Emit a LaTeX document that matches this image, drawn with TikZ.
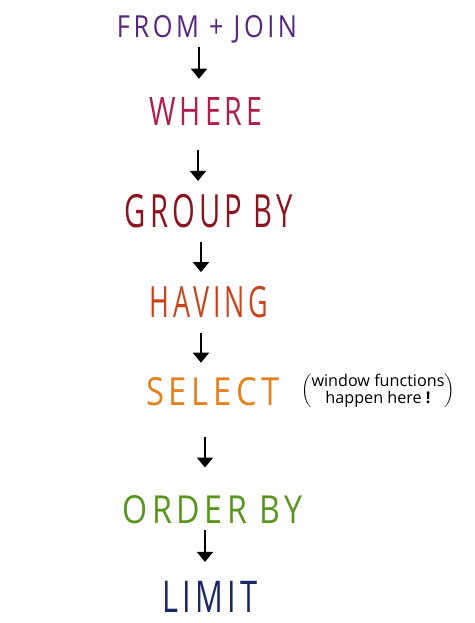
\documentclass[tikz,border=0pt]{standalone}
\usepackage{fontspec}
\setmainfont{Open Sans}
\usepackage{graphicx}
\usetikzlibrary{arrows.meta}
\definecolor{fromcol}{RGB}{85,40,125}
\definecolor{wherecol}{RGB}{176,30,80}
\definecolor{groupcol}{RGB}{140,20,30}
\definecolor{havingcol}{RGB}{200,70,30}
\definecolor{selectcol}{RGB}{230,130,30}
\definecolor{ordercol}{RGB}{90,150,30}
\definecolor{limitcol}{RGB}{25,40,100}
% fit a clause word into the box it takes in the sketch
\newcommand{\clauseword}[3]{\resizebox{#1cm}{#2cm}{\addfontfeatures{LetterSpace=14}#3}}

\begin{document}
\begin{tikzpicture}[x=0.025cm,y=-0.025cm,
    clause/.style={inner sep=0pt,text depth=0pt},
    flow/.style={-{Triangle[width=0.4cm,length=0.25cm]},line width=1.4pt,
        transform canvas={xshift=-0.2cm}}]
            \useasboundingbox (0,0) rectangle (474,623);
            \fill [white] (0,0) rectangle (474,623);

            \node [clause,text=fromcol] (from) at (207,26) {\clauseword{4.5}{0.55}{FROM + JOIN}};
            \node [clause,text=wherecol] (where) at (206,111) {\clauseword{2.83}{0.7}{WHERE}};
            \node [clause,text=groupcol] (group) at (209,211) {\clauseword{4.2}{0.83}{GROUP BY}};
            \node [clause,text=havingcol] (having) at (209,302) {\clauseword{2.95}{0.78}{HAVING}};
            \node [clause,text=selectcol] (select) at (213,391) {\clauseword{3.33}{0.7}{SELECT}};
            \node [clause,text=ordercol] (order) at (213,509) {\clauseword{4.5}{0.7}{ORDER BY}};
            \node [clause,text=limitcol] (limit) at (210,597) {\clauseword{2.38}{0.78}{LIMIT}};

            \node [inner sep=0pt,font=\fontsize{11.5}{10.5}\selectfont] (note) at (378,391)
                {$\left(\vcenter{\hbox{\begin{tabular}{@{}c@{}}window functions\\happen here \textbf{!}\end{tabular}}}\right)$};

            \draw [flow,shorten <=0.25cm,shorten >=0.45cm] (from.south) -- (from.south |- where.north);
            \draw [flow,shorten <=0.63cm,shorten >=0.33cm] (where.south) -- (where.south |- group.north);
            \draw [flow,shorten <=0.35cm,shorten >=0.35cm] (group.south) -- (group.south |- having.north);
            \draw [flow,shorten <=0.38cm,shorten >=0.35cm] (having.south) -- (having.south |- select.north);
            \draw [flow,shorten <=0.8cm,shorten >=0.68cm] (select.south) -- (select.south |- order.north);
            \draw [flow,shorten <=0.18cm,shorten >=0.48cm] (order.south) -- (order.south |- limit.north);
        \end{tikzpicture}
\end{document}
